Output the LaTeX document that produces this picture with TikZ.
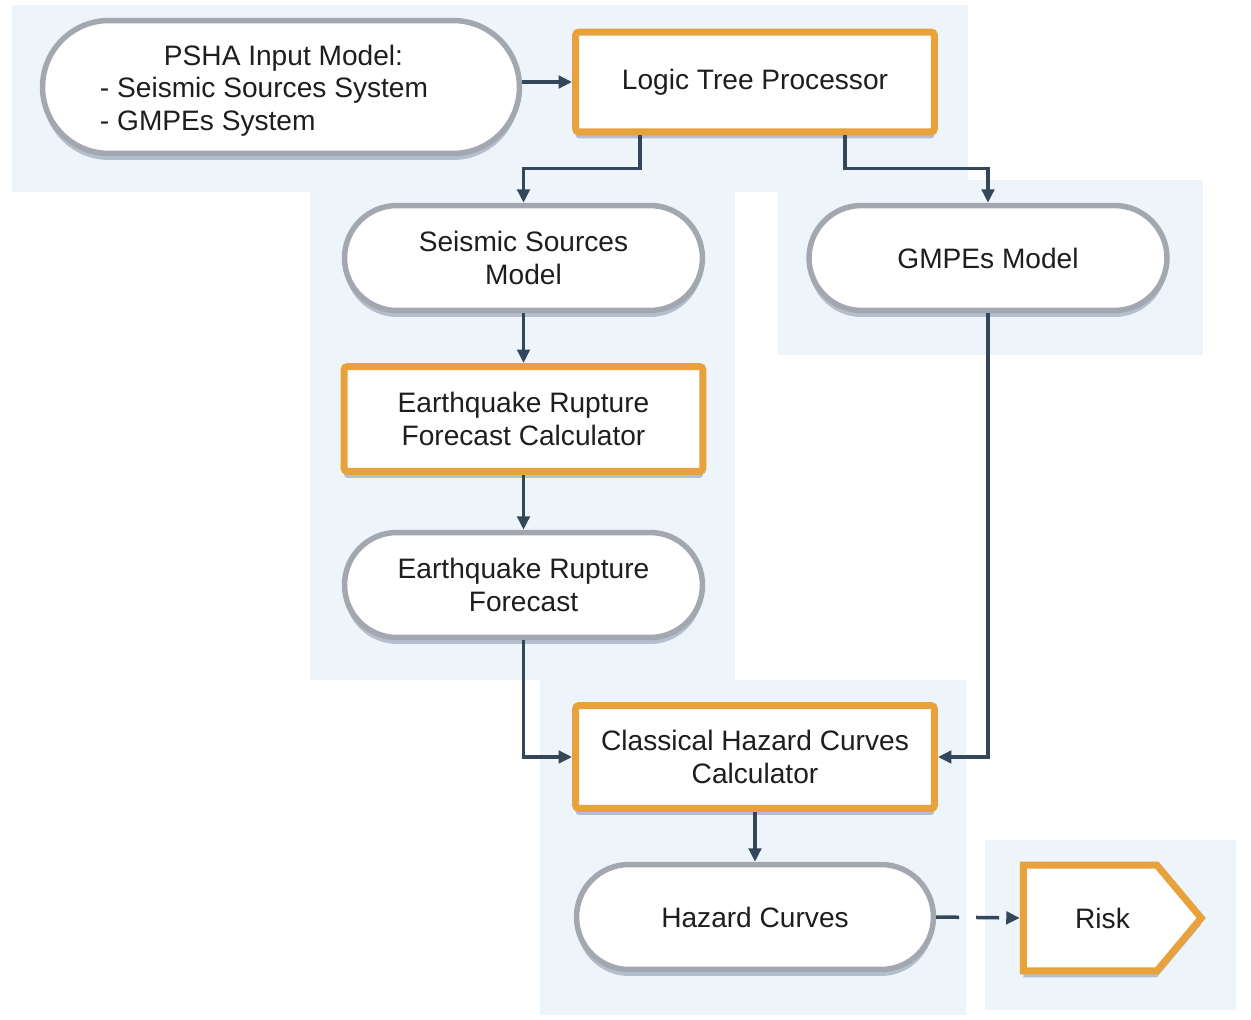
\documentclass[tikz,border=0pt]{standalone}
\usepackage{fontspec}
\setmainfont{Liberation Sans}
\usetikzlibrary{shapes.misc,shapes.symbols,arrows.meta,shadows,calc}
\definecolor{panel}{HTML}{EDF4FA}
\definecolor{orng}{HTML}{E9A23B}
\definecolor{edgegray}{HTML}{A3A8B0}
\definecolor{linec}{HTML}{34465A}
\definecolor{ink}{HTML}{1E1E1E}
\definecolor{shadowc}{HTML}{4A5A78}
\begin{document}
\begin{tikzpicture}[x=0.02cm,y=-0.02cm,
  font=\fontsize{16}{18.5}\selectfont, text=ink,
  softshadow/.style={drop shadow={shadow xshift=0cm, shadow yshift=-0.13cm, fill=shadowc, opacity=0.35}},
  stadium/.style={rounded rectangle, draw=edgegray, line width=0.11cm, fill=white, softshadow, align=center, inner sep=0pt},
  proc/.style={rectangle, draw=orng, line width=0.14cm, fill=white, rounded corners=2pt, softshadow, align=center, inner sep=0pt},
  conn/.style={draw=linec, line width=0.07cm, -{Triangle[length=0.27cm,width=0.25cm]}},
  panelbox/.style={fill=panel, draw=none}]
\useasboundingbox (0,0) rectangle (1251,1020);
\fill[white] (0,0) rectangle (1251,1020);
% background panels
\path[panelbox] (12,5) rectangle (968,192);
\path[panelbox] (310,185) rectangle (735,680);
\path[panelbox] (778,180) rectangle (1203,355);
\path[panelbox] (540,680) rectangle (966,1015);
\path[panelbox] (985,840) rectangle (1236,1010);
% nodes
\node[stadium, minimum width=9.54cm, minimum height=2.66cm] (psha) at (281,87)
  {\begin{tabular}{@{}l@{}}\rule{0pt}{0.62cm}\rule{1.28cm}{0pt}PSHA Input Model:\\- Seismic Sources System\rule{0.68cm}{0pt}\\- GMPEs System\end{tabular}};
\node[proc, minimum width=7.18cm, minimum height=2.0cm] (logic) at (755,82) {Logic Tree Processor};
\node[stadium, minimum width=7.16cm, minimum height=2.1cm] (seis) at (523.5,258) {Seismic Sources\\Model};
\node[stadium, minimum width=7.16cm, minimum height=2.1cm] (gmpe) at (988,258) {GMPEs Model};
\node[proc, minimum width=7.18cm, minimum height=2.1cm] (erfc) at (523.5,419) {Earthquake Rupture\\Forecast Calculator};
\node[stadium, minimum width=7.16cm, minimum height=2.1cm] (erf) at (523.5,585) {Earthquake Rupture\\Forecast};
\node[proc, minimum width=7.18cm, minimum height=2.06cm] (chcc) at (755,757) {Classical Hazard Curves\\Calculator};
\node[stadium, minimum width=7.14cm, minimum height=2.1cm] (hc) at (755,917) {Hazard Curves};
\node[signal, signal to=east, signal pointer angle=100, draw=orng, line width=0.14cm, fill=white, softshadow,
  minimum width=3.56cm, minimum height=2.12cm, inner sep=0pt] (risk) at (1090,918) {\hspace*{0.5cm}Risk};
% connectors
\coordinate (bl) at (640,0);
\coordinate (br) at (845,0);
\draw[conn] (psha.east |- logic.west) -- (logic.west);
\draw[conn] (logic.south -| bl) -- ++(0,33) -| (seis.north);
\draw[conn] (logic.south -| br) -- ++(0,33) -| (gmpe.north);
\draw[conn] (seis.south) -- (erfc.north);
\draw[conn] (erfc.south) -- (erf.north);
\draw[conn] (erf.south) |- (chcc.west);
\draw[conn] (gmpe.south) |- (chcc.east);
\draw[conn] (chcc.south) -- (hc.north);
\draw[conn, dash pattern=on 0.46cm off 0.34cm] (hc.east) -- (risk.west);
\end{tikzpicture}
\end{document}
